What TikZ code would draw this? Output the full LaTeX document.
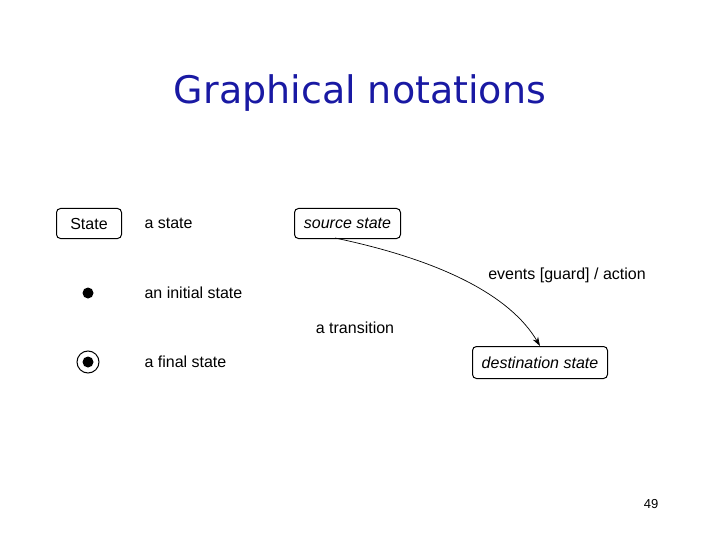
\documentclass[tikz,border=0pt]{standalone}
\usepackage{fontspec}
\setmainfont{Liberation Sans}
\newfontfamily\titlefont{DejaVu Sans}
\usetikzlibrary{arrows.meta}
\begin{document}
\begin{tikzpicture}[x=1pt,y=-1pt,
  box/.style={draw,rounded corners=4pt,line width=1pt,inner sep=0pt,anchor=north west},
  lbl/.style={anchor=west,font=\fontsize{16}{18}\selectfont},
  txt/.style={font=\fontsize{16}{18}\selectfont}]
\useasboundingbox (0,0) rectangle (720,540);
\node[font=\titlefont\fontsize{38}{42}\selectfont,text=blue!60!black!90!white] (title) at (360,93) {Graphical notations};
\node[box,minimum width=65pt,minimum height=30pt] (st) at (56,208) {};
\node[txt] (stt) at (st.center) {State};
\node[lbl] (l1) at (141,223) {a state};
\node[circle,fill=black,minimum size=11pt,inner sep=0pt] (ini) at (88,293) {};
\node[lbl] (l2) at (141,293) {an initial state};
\node[circle,draw,line width=1pt,minimum size=22pt,inner sep=0pt] (fin) at (88,362) {};
\node[circle,fill=black,minimum size=11pt,inner sep=0pt] (fin2) at (88,362) {};
\node[lbl] (l3) at (141,362) {a final state};
\node[box,minimum width=106pt,minimum height=30pt] (src) at (294,208) {};
\node[txt,font=\fontsize{16}{18}\selectfont\itshape] (srct) at (src.center) {source state};
\node[box,minimum width=135pt,minimum height=32pt] (dst) at (472,346) {};
\node[txt,font=\fontsize{16}{18}\selectfont\itshape] (dstt) at (dst.center) {destination state};
\coordinate (a) at (335,238);
\coordinate (b) at (540,346);
\draw[-{Stealth[length=9pt,width=6pt]},line width=0.7pt] (a) .. controls (440,260) and (510,295) .. (b);
\node[txt] (ev) at (567,275) {events [guard] / action};
\node[txt] (tr) at (355,328) {a transition};
\node[font=\fontsize{13}{15}\selectfont] (pg) at (651,504) {49};
\end{tikzpicture}
\end{document}
